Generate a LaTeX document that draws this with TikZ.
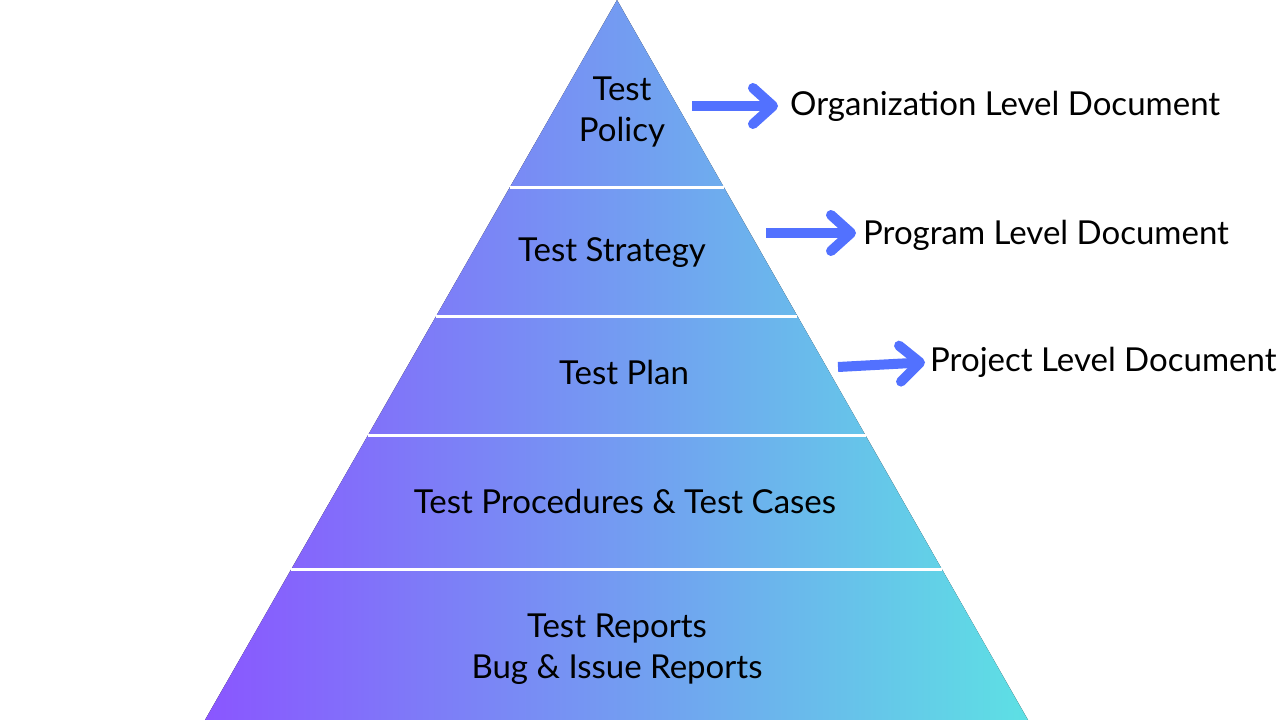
\documentclass[tikz,border=0pt]{standalone}
\usepackage{fontspec}
\setmainfont{Lato}
\usetikzlibrary{calc,arrows.meta}
\definecolor{pyrLeft}{HTML}{8A56FF}
\definecolor{pyrRight}{HTML}{5DE0E4}
\definecolor{arrBlue}{HTML}{5271FF}

\begin{document}
\begin{tikzpicture}[x=1pt, y=-1pt,
  level/.style={align=center, font=\fontsize{33}{41}\selectfont, inner sep=0pt},
  doc/.style={anchor=west, font=\fontsize{33}{41}\selectfont, inner sep=0pt},
  sep/.style={white, line width=3pt},
  arr/.style={arrBlue, line width=10pt, -{Straight Barb[length=20pt, width=36pt, round]}}]

  \useasboundingbox (0,0) rectangle (1280,720);

  % Pyramid
  \coordinate (A) at (617,0);
  \coordinate (BL) at (205,720);
  \coordinate (BR) at (1028,720);
  \fill[left color=pyrLeft, right color=pyrRight] (A) -- (BL) -- (BR) -- cycle;

  % Separators
  \foreach \h in {187,316,436,570}
    \draw[sep] ($(A)!\h/720!(BL)$) -- ($(A)!\h/720!(BR)$);

  % Levels
  \node[level] (L1) at (622,112) {Test\\Policy};
  \node[level] (L2) at (612,253) {Test Strategy};
  \node[level] (L3) at (624,372) {Test Plan};
  \node[level] (L4) at (625,501) {Test Procedures \& Test Cases};
  \node[level] (L5) at (617,649) {Test Reports\\Bug \& Issue Reports};

  % Documents
  \node[doc] (D1) at (790,106) {Organization Level Document};
  \node[doc] (D2) at (863,235) {Program Level Document};
  \node[doc] (D3) at (930,362) {Project Level Document};

  % Arrows
  \coordinate (S1) at (692,106);
  \coordinate (S2) at (766,233);
  \coordinate (S3) at (838,367);
  \draw[arr, shorten >=12pt] (S1) -- (S1 -| D1.west);
  \draw[arr, shorten >=7pt] (S2) -- (S2 -| D2.west);
  \draw[arr, shorten >=5pt] (S3) -- (D3.west);

\end{tikzpicture}
\end{document}
